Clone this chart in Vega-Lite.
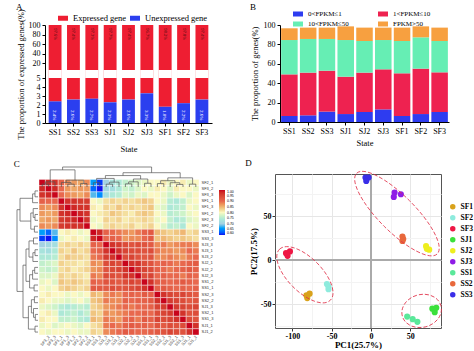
{
"$schema":"https://vega.github.io/schema/vega-lite/v6.json",
"padding":{"left":13,"top":2,"right":0,"bottom":0},
"config":{"font":"Liberation Serif","view":{"stroke":null},
 "axis":{"domainColor":"#000","tickColor":"#000","labelColor":"#000","titleColor":"#000","labelFontSize":8,"titleFontSize":8.5,"titleFontWeight":"normal","grid":false,"tickSize":3,"labelFont":"Liberation Serif","titleFont":"Liberation Serif","labelOverlap":false},
 "legend":{"labelFont":"Liberation Serif","labelFontSize":8,"labelColor":"#000"},
 "title":{"font":"Liberation Serif","fontSize":9,"fontWeight":"normal","anchor":"start","frame":"bounds","offset":2}},
"datasets":{
"a":[{"state":"SS1","type":"Expressed gene","pct":97.6},{"state":"SS1","type":"Unexpressed gene","pct":2.4},{"state":"SS2","type":"Expressed gene","pct":97.4},{"state":"SS2","type":"Unexpressed gene","pct":2.6},{"state":"SS3","type":"Expressed gene","pct":97.3},{"state":"SS3","type":"Unexpressed gene","pct":2.7},{"state":"SJ1","type":"Expressed gene","pct":97.7},{"state":"SJ1","type":"Unexpressed gene","pct":2.3},{"state":"SJ2","type":"Expressed gene","pct":97.4},{"state":"SJ2","type":"Unexpressed gene","pct":2.6},{"state":"SJ3","type":"Expressed gene","pct":96.7},{"state":"SJ3","type":"Unexpressed gene","pct":3.3},{"state":"SF1","type":"Expressed gene","pct":98.2},{"state":"SF1","type":"Unexpressed gene","pct":1.8},{"state":"SF2","type":"Expressed gene","pct":97.8},{"state":"SF2","type":"Unexpressed gene","pct":2.2},{"state":"SF3","type":"Expressed gene","pct":97.4},{"state":"SF3","type":"Unexpressed gene","pct":2.6}],
"b":[{"state":"SS1","cat":"0<FPKM≤1","v":6.2},{"state":"SS1","cat":"1<FPKM≤10","v":42.9},{"state":"SS1","cat":"10<FPKM≤50","v":35.4},{"state":"SS1","cat":"FPKM>50","v":12.1},
{"state":"SS2","cat":"0<FPKM≤1","v":6.9},{"state":"SS2","cat":"1<FPKM≤10","v":44.0},{"state":"SS2","cat":"10<FPKM≤50","v":34.7},{"state":"SS2","cat":"FPKM>50","v":11.7},
{"state":"SS3","cat":"0<FPKM≤1","v":10.7},{"state":"SS3","cat":"1<FPKM≤10","v":42.2},{"state":"SS3","cat":"10<FPKM≤50","v":32.7},{"state":"SS3","cat":"FPKM>50","v":11.7},
{"state":"SJ1","cat":"0<FPKM≤1","v":8.2},{"state":"SJ1","cat":"1<FPKM≤10","v":38.5},{"state":"SJ1","cat":"10<FPKM≤50","v":37.8},{"state":"SJ1","cat":"FPKM>50","v":14.1},
{"state":"SJ2","cat":"0<FPKM≤1","v":10.3},{"state":"SJ2","cat":"1<FPKM≤10","v":40.6},{"state":"SJ2","cat":"10<FPKM≤50","v":32.6},{"state":"SJ2","cat":"FPKM>50","v":13.8},
{"state":"SJ3","cat":"0<FPKM≤1","v":13.0},{"state":"SJ3","cat":"1<FPKM≤10","v":41.3},{"state":"SJ3","cat":"10<FPKM≤50","v":30.2},{"state":"SJ3","cat":"FPKM>50","v":12.8},
{"state":"SF1","cat":"0<FPKM≤1","v":6.2},{"state":"SF1","cat":"1<FPKM≤10","v":44.0},{"state":"SF1","cat":"10<FPKM≤50","v":33.3},{"state":"SF1","cat":"FPKM>50","v":13.8},
{"state":"SF2","cat":"0<FPKM≤1","v":8.2},{"state":"SF2","cat":"1<FPKM≤10","v":46.8},{"state":"SF2","cat":"10<FPKM≤50","v":32.3},{"state":"SF2","cat":"FPKM>50","v":11.3},
{"state":"SF3","cat":"0<FPKM≤1","v":10.3},{"state":"SF3","cat":"1<FPKM≤10","v":40.9},{"state":"SF3","cat":"10<FPKM≤50","v":32.3},{"state":"SF3","cat":"FPKM>50","v":13.8}],
"tree":[{"p1":1,"p2":1,"h1":0,"h2":1},{"p1":2,"p2":2,"h1":0,"h2":1},{"p1":1,"p2":2,"h1":1,"h2":1},
{"p1":1.5,"p2":1.5,"h1":1,"h2":1.8},{"p1":3,"p2":3,"h1":0,"h2":1.8},{"p1":1.5,"p2":3,"h1":1.8,"h2":1.8},
{"p1":5,"p2":5,"h1":0,"h2":1},{"p1":6,"p2":6,"h1":0,"h2":1},{"p1":5,"p2":6,"h1":1,"h2":1},
{"p1":4,"p2":4,"h1":0,"h2":1.6},{"p1":5.5,"p2":5.5,"h1":1,"h2":1.6},{"p1":4,"p2":5.5,"h1":1.6,"h2":1.6},
{"p1":7,"p2":7,"h1":0,"h2":1.2},{"p1":8,"p2":8,"h1":0,"h2":1.2},{"p1":7,"p2":8,"h1":1.2,"h2":1.2},
{"p1":4.75,"p2":4.75,"h1":1.6,"h2":2.4},{"p1":7.5,"p2":7.5,"h1":1.2,"h2":2.4},{"p1":4.75,"p2":7.5,"h1":2.4,"h2":2.4},
{"p1":2.25,"p2":2.25,"h1":1.8,"h2":6},{"p1":6.125,"p2":6.125,"h1":2.4,"h2":6},{"p1":2.25,"p2":6.125,"h1":6,"h2":6},
{"p1":9,"p2":9,"h1":0,"h2":1.5},{"p1":10,"p2":10,"h1":0,"h2":1.5},{"p1":9,"p2":10,"h1":1.5,"h2":1.5},
{"p1":11,"p2":11,"h1":0,"h2":1},{"p1":12,"p2":12,"h1":0,"h2":1},{"p1":11,"p2":12,"h1":1,"h2":1},
{"p1":11.5,"p2":11.5,"h1":1,"h2":1.7},{"p1":13,"p2":13,"h1":0,"h2":1.7},{"p1":11.5,"p2":13,"h1":1.7,"h2":1.7},
{"p1":14,"p2":14,"h1":0,"h2":1.1},{"p1":15,"p2":15,"h1":0,"h2":1.1},{"p1":14,"p2":15,"h1":1.1,"h2":1.1},
{"p1":14.5,"p2":14.5,"h1":1.1,"h2":1.8},{"p1":16,"p2":16,"h1":0,"h2":1.8},{"p1":14.5,"p2":16,"h1":1.8,"h2":1.8},
{"p1":17,"p2":17,"h1":0,"h2":1.3},{"p1":18,"p2":18,"h1":0,"h2":1.3},{"p1":17,"p2":18,"h1":1.3,"h2":1.3},
{"p1":19,"p2":19,"h1":0,"h2":1.2},{"p1":20,"p2":20,"h1":0,"h2":1.2},{"p1":19,"p2":20,"h1":1.2,"h2":1.2},
{"p1":22,"p2":22,"h1":0,"h2":0.9},{"p1":23,"p2":23,"h1":0,"h2":0.9},{"p1":22,"p2":23,"h1":0.9,"h2":0.9},
{"p1":21,"p2":21,"h1":0,"h2":1.5},{"p1":22.5,"p2":22.5,"h1":0.9,"h2":1.5},{"p1":21,"p2":22.5,"h1":1.5,"h2":1.5},
{"p1":19.5,"p2":19.5,"h1":1.2,"h2":2.2},{"p1":21.75,"p2":21.75,"h1":1.5,"h2":2.2},{"p1":19.5,"p2":21.75,"h1":2.2,"h2":2.2},
{"p1":24,"p2":24,"h1":0,"h2":1},{"p1":25,"p2":25,"h1":0,"h2":1},{"p1":24,"p2":25,"h1":1,"h2":1},
{"p1":9.5,"p2":9.5,"h1":1.5,"h2":3},{"p1":12.25,"p2":12.25,"h1":1.7,"h2":3},{"p1":9.5,"p2":12.25,"h1":3,"h2":3},
{"p1":15.25,"p2":15.25,"h1":1.8,"h2":2.8},{"p1":17.5,"p2":17.5,"h1":1.3,"h2":2.8},{"p1":15.25,"p2":17.5,"h1":2.8,"h2":2.8},
{"p1":10.875,"p2":10.875,"h1":3,"h2":4},{"p1":16.375,"p2":16.375,"h1":2.8,"h2":4},{"p1":10.875,"p2":16.375,"h1":4,"h2":4},
{"p1":20.625,"p2":20.625,"h1":2.2,"h2":3.2},{"p1":24.5,"p2":24.5,"h1":1,"h2":3.2},{"p1":20.625,"p2":24.5,"h1":3.2,"h2":3.2},
{"p1":13.625,"p2":13.625,"h1":4,"h2":5},{"p1":22.5625,"p2":22.5625,"h1":3.2,"h2":5},{"p1":13.625,"p2":22.5625,"h1":5,"h2":5},
{"p1":4.1875,"p2":4.1875,"h1":6,"h2":7},{"p1":18.09375,"p2":18.09375,"h1":5,"h2":7},{"p1":4.1875,"p2":18.09375,"h1":7,"h2":7}],
"hm":[
{"r":1,"c":1,"v":100},{"r":1,"c":2,"v":98},{"r":1,"c":3,"v":97},{"r":1,"c":4,"v":91},{"r":1,"c":5,"v":88},{"r":1,"c":6,"v":87},{"r":1,"c":7,"v":86},{"r":1,"c":8,"v":88},{"r":1,"c":9,"v":66},{"r":1,"c":10,"v":61},{"r":1,"c":11,"v":70},{"r":1,"c":12,"v":73},{"r":1,"c":13,"v":74},{"r":1,"c":14,"v":76},{"r":1,"c":15,"v":77},{"r":1,"c":16,"v":78},{"r":1,"c":17,"v":79},{"r":1,"c":18,"v":80},{"r":1,"c":19,"v":80},{"r":1,"c":20,"v":81},{"r":1,"c":21,"v":79},{"r":1,"c":22,"v":80},{"r":1,"c":23,"v":81},{"r":1,"c":24,"v":79},{"r":1,"c":25,"v":80},
{"r":2,"c":1,"v":98},{"r":2,"c":2,"v":100},{"r":2,"c":3,"v":98},{"r":2,"c":4,"v":90},{"r":2,"c":5,"v":87},{"r":2,"c":6,"v":86},{"r":2,"c":7,"v":87},{"r":2,"c":8,"v":87},{"r":2,"c":9,"v":63},{"r":2,"c":10,"v":60},{"r":2,"c":11,"v":71},{"r":2,"c":12,"v":72},{"r":2,"c":13,"v":74},{"r":2,"c":14,"v":77},{"r":2,"c":15,"v":76},{"r":2,"c":16,"v":78},{"r":2,"c":17,"v":80},{"r":2,"c":18,"v":79},{"r":2,"c":19,"v":81},{"r":2,"c":20,"v":80},{"r":2,"c":21,"v":78},{"r":2,"c":22,"v":81},{"r":2,"c":23,"v":80},{"r":2,"c":24,"v":80},{"r":2,"c":25,"v":79},
{"r":3,"c":1,"v":97},{"r":3,"c":2,"v":98},{"r":3,"c":3,"v":100},{"r":3,"c":4,"v":90},{"r":3,"c":5,"v":88},{"r":3,"c":6,"v":87},{"r":3,"c":7,"v":86},{"r":3,"c":8,"v":88},{"r":3,"c":9,"v":68},{"r":3,"c":10,"v":65},{"r":3,"c":11,"v":72},{"r":3,"c":12,"v":74},{"r":3,"c":13,"v":75},{"r":3,"c":14,"v":78},{"r":3,"c":15,"v":77},{"r":3,"c":16,"v":79},{"r":3,"c":17,"v":78},{"r":3,"c":18,"v":80},{"r":3,"c":19,"v":80},{"r":3,"c":20,"v":79},{"r":3,"c":21,"v":77},{"r":3,"c":22,"v":79},{"r":3,"c":23,"v":80},{"r":3,"c":24,"v":78},{"r":3,"c":25,"v":80},
{"r":4,"c":1,"v":91},{"r":4,"c":2,"v":90},{"r":4,"c":3,"v":90},{"r":4,"c":4,"v":100},{"r":4,"c":5,"v":97},{"r":4,"c":6,"v":97},{"r":4,"c":7,"v":96},{"r":4,"c":8,"v":96},{"r":4,"c":9,"v":80},{"r":4,"c":10,"v":79},{"r":4,"c":11,"v":82},{"r":4,"c":12,"v":83},{"r":4,"c":13,"v":82},{"r":4,"c":14,"v":83},{"r":4,"c":15,"v":82},{"r":4,"c":16,"v":83},{"r":4,"c":17,"v":84},{"r":4,"c":18,"v":83},{"r":4,"c":19,"v":80},{"r":4,"c":20,"v":79},{"r":4,"c":21,"v":75},{"r":4,"c":22,"v":74},{"r":4,"c":23,"v":76},{"r":4,"c":24,"v":79},{"r":4,"c":25,"v":80},
{"r":5,"c":1,"v":88},{"r":5,"c":2,"v":87},{"r":5,"c":3,"v":88},{"r":5,"c":4,"v":97},{"r":5,"c":5,"v":100},{"r":5,"c":6,"v":98},{"r":5,"c":7,"v":97},{"r":5,"c":8,"v":97},{"r":5,"c":9,"v":81},{"r":5,"c":10,"v":80},{"r":5,"c":11,"v":83},{"r":5,"c":12,"v":82},{"r":5,"c":13,"v":84},{"r":5,"c":14,"v":82},{"r":5,"c":15,"v":83},{"r":5,"c":16,"v":82},{"r":5,"c":17,"v":83},{"r":5,"c":18,"v":84},{"r":5,"c":19,"v":79},{"r":5,"c":20,"v":78},{"r":5,"c":21,"v":74},{"r":5,"c":22,"v":75},{"r":5,"c":23,"v":76},{"r":5,"c":24,"v":80},{"r":5,"c":25,"v":79},
{"r":6,"c":1,"v":87},{"r":6,"c":2,"v":86},{"r":6,"c":3,"v":87},{"r":6,"c":4,"v":97},{"r":6,"c":5,"v":98},{"r":6,"c":6,"v":100},{"r":6,"c":7,"v":98},{"r":6,"c":8,"v":97},{"r":6,"c":9,"v":80},{"r":6,"c":10,"v":81},{"r":6,"c":11,"v":82},{"r":6,"c":12,"v":84},{"r":6,"c":13,"v":83},{"r":6,"c":14,"v":82},{"r":6,"c":15,"v":81},{"r":6,"c":16,"v":83},{"r":6,"c":17,"v":84},{"r":6,"c":18,"v":83},{"r":6,"c":19,"v":80},{"r":6,"c":20,"v":79},{"r":6,"c":21,"v":75},{"r":6,"c":22,"v":76},{"r":6,"c":23,"v":77},{"r":6,"c":24,"v":79},{"r":6,"c":25,"v":80},
{"r":7,"c":1,"v":86},{"r":7,"c":2,"v":87},{"r":7,"c":3,"v":86},{"r":7,"c":4,"v":96},{"r":7,"c":5,"v":97},{"r":7,"c":6,"v":98},{"r":7,"c":7,"v":100},{"r":7,"c":8,"v":97},{"r":7,"c":9,"v":79},{"r":7,"c":10,"v":80},{"r":7,"c":11,"v":83},{"r":7,"c":12,"v":82},{"r":7,"c":13,"v":83},{"r":7,"c":14,"v":81},{"r":7,"c":15,"v":82},{"r":7,"c":16,"v":82},{"r":7,"c":17,"v":83},{"r":7,"c":18,"v":82},{"r":7,"c":19,"v":79},{"r":7,"c":20,"v":80},{"r":7,"c":21,"v":76},{"r":7,"c":22,"v":74},{"r":7,"c":23,"v":75},{"r":7,"c":24,"v":78},{"r":7,"c":25,"v":79},
{"r":8,"c":1,"v":88},{"r":8,"c":2,"v":87},{"r":8,"c":3,"v":88},{"r":8,"c":4,"v":96},{"r":8,"c":5,"v":97},{"r":8,"c":6,"v":97},{"r":8,"c":7,"v":97},{"r":8,"c":8,"v":100},{"r":8,"c":9,"v":80},{"r":8,"c":10,"v":79},{"r":8,"c":11,"v":82},{"r":8,"c":12,"v":83},{"r":8,"c":13,"v":82},{"r":8,"c":14,"v":82},{"r":8,"c":15,"v":83},{"r":8,"c":16,"v":81},{"r":8,"c":17,"v":82},{"r":8,"c":18,"v":83},{"r":8,"c":19,"v":80},{"r":8,"c":20,"v":78},{"r":8,"c":21,"v":75},{"r":8,"c":22,"v":76},{"r":8,"c":23,"v":74},{"r":8,"c":24,"v":80},{"r":8,"c":25,"v":79},
{"r":9,"c":1,"v":66},{"r":9,"c":2,"v":63},{"r":9,"c":3,"v":68},{"r":9,"c":4,"v":80},{"r":9,"c":5,"v":81},{"r":9,"c":6,"v":80},{"r":9,"c":7,"v":79},{"r":9,"c":8,"v":80},{"r":9,"c":9,"v":100},{"r":9,"c":10,"v":98},{"r":9,"c":11,"v":91},{"r":9,"c":12,"v":90},{"r":9,"c":13,"v":89},{"r":9,"c":14,"v":88},{"r":9,"c":15,"v":87},{"r":9,"c":16,"v":89},{"r":9,"c":17,"v":91},{"r":9,"c":18,"v":92},{"r":9,"c":19,"v":85},{"r":9,"c":20,"v":84},{"r":9,"c":21,"v":83},{"r":9,"c":22,"v":84},{"r":9,"c":23,"v":85},{"r":9,"c":24,"v":82},{"r":9,"c":25,"v":83},
{"r":10,"c":1,"v":61},{"r":10,"c":2,"v":60},{"r":10,"c":3,"v":65},{"r":10,"c":4,"v":79},{"r":10,"c":5,"v":80},{"r":10,"c":6,"v":81},{"r":10,"c":7,"v":80},{"r":10,"c":8,"v":79},{"r":10,"c":9,"v":98},{"r":10,"c":10,"v":100},{"r":10,"c":11,"v":90},{"r":10,"c":12,"v":91},{"r":10,"c":13,"v":90},{"r":10,"c":14,"v":87},{"r":10,"c":15,"v":88},{"r":10,"c":16,"v":88},{"r":10,"c":17,"v":90},{"r":10,"c":18,"v":92},{"r":10,"c":19,"v":84},{"r":10,"c":20,"v":85},{"r":10,"c":21,"v":84},{"r":10,"c":22,"v":83},{"r":10,"c":23,"v":84},{"r":10,"c":24,"v":83},{"r":10,"c":25,"v":82},
{"r":11,"c":1,"v":70},{"r":11,"c":2,"v":71},{"r":11,"c":3,"v":72},{"r":11,"c":4,"v":82},{"r":11,"c":5,"v":83},{"r":11,"c":6,"v":82},{"r":11,"c":7,"v":83},{"r":11,"c":8,"v":82},{"r":11,"c":9,"v":91},{"r":11,"c":10,"v":90},{"r":11,"c":11,"v":100},{"r":11,"c":12,"v":97},{"r":11,"c":13,"v":96},{"r":11,"c":14,"v":94},{"r":11,"c":15,"v":93},{"r":11,"c":16,"v":94},{"r":11,"c":17,"v":93},{"r":11,"c":18,"v":92},{"r":11,"c":19,"v":88},{"r":11,"c":20,"v":89},{"r":11,"c":21,"v":87},{"r":11,"c":22,"v":88},{"r":11,"c":23,"v":89},{"r":11,"c":24,"v":89},{"r":11,"c":25,"v":88},
{"r":12,"c":1,"v":73},{"r":12,"c":2,"v":72},{"r":12,"c":3,"v":74},{"r":12,"c":4,"v":83},{"r":12,"c":5,"v":82},{"r":12,"c":6,"v":84},{"r":12,"c":7,"v":82},{"r":12,"c":8,"v":83},{"r":12,"c":9,"v":90},{"r":12,"c":10,"v":91},{"r":12,"c":11,"v":97},{"r":12,"c":12,"v":100},{"r":12,"c":13,"v":97},{"r":12,"c":14,"v":95},{"r":12,"c":15,"v":94},{"r":12,"c":16,"v":94},{"r":12,"c":17,"v":93},{"r":12,"c":18,"v":94},{"r":12,"c":19,"v":89},{"r":12,"c":20,"v":88},{"r":12,"c":21,"v":88},{"r":12,"c":22,"v":87},{"r":12,"c":23,"v":88},{"r":12,"c":24,"v":90},{"r":12,"c":25,"v":89},
{"r":13,"c":1,"v":74},{"r":13,"c":2,"v":74},{"r":13,"c":3,"v":75},{"r":13,"c":4,"v":82},{"r":13,"c":5,"v":84},{"r":13,"c":6,"v":83},{"r":13,"c":7,"v":83},{"r":13,"c":8,"v":82},{"r":13,"c":9,"v":89},{"r":13,"c":10,"v":90},{"r":13,"c":11,"v":96},{"r":13,"c":12,"v":97},{"r":13,"c":13,"v":100},{"r":13,"c":14,"v":94},{"r":13,"c":15,"v":95},{"r":13,"c":16,"v":93},{"r":13,"c":17,"v":92},{"r":13,"c":18,"v":93},{"r":13,"c":19,"v":88},{"r":13,"c":20,"v":88},{"r":13,"c":21,"v":89},{"r":13,"c":22,"v":88},{"r":13,"c":23,"v":87},{"r":13,"c":24,"v":89},{"r":13,"c":25,"v":90},
{"r":14,"c":1,"v":76},{"r":14,"c":2,"v":77},{"r":14,"c":3,"v":78},{"r":14,"c":4,"v":83},{"r":14,"c":5,"v":82},{"r":14,"c":6,"v":82},{"r":14,"c":7,"v":81},{"r":14,"c":8,"v":82},{"r":14,"c":9,"v":88},{"r":14,"c":10,"v":87},{"r":14,"c":11,"v":94},{"r":14,"c":12,"v":95},{"r":14,"c":13,"v":94},{"r":14,"c":14,"v":100},{"r":14,"c":15,"v":97},{"r":14,"c":16,"v":97},{"r":14,"c":17,"v":94},{"r":14,"c":18,"v":93},{"r":14,"c":19,"v":90},{"r":14,"c":20,"v":91},{"r":14,"c":21,"v":90},{"r":14,"c":22,"v":89},{"r":14,"c":23,"v":90},{"r":14,"c":24,"v":91},{"r":14,"c":25,"v":92},
{"r":15,"c":1,"v":77},{"r":15,"c":2,"v":76},{"r":15,"c":3,"v":77},{"r":15,"c":4,"v":82},{"r":15,"c":5,"v":83},{"r":15,"c":6,"v":81},{"r":15,"c":7,"v":82},{"r":15,"c":8,"v":83},{"r":15,"c":9,"v":87},{"r":15,"c":10,"v":88},{"r":15,"c":11,"v":93},{"r":15,"c":12,"v":94},{"r":15,"c":13,"v":95},{"r":15,"c":14,"v":97},{"r":15,"c":15,"v":100},{"r":15,"c":16,"v":97},{"r":15,"c":17,"v":95},{"r":15,"c":18,"v":94},{"r":15,"c":19,"v":91},{"r":15,"c":20,"v":90},{"r":15,"c":21,"v":89},{"r":15,"c":22,"v":90},{"r":15,"c":23,"v":91},{"r":15,"c":24,"v":92},{"r":15,"c":25,"v":91},
{"r":16,"c":1,"v":78},{"r":16,"c":2,"v":78},{"r":16,"c":3,"v":79},{"r":16,"c":4,"v":83},{"r":16,"c":5,"v":82},{"r":16,"c":6,"v":83},{"r":16,"c":7,"v":82},{"r":16,"c":8,"v":81},{"r":16,"c":9,"v":89},{"r":16,"c":10,"v":88},{"r":16,"c":11,"v":94},{"r":16,"c":12,"v":94},{"r":16,"c":13,"v":93},{"r":16,"c":14,"v":97},{"r":16,"c":15,"v":97},{"r":16,"c":16,"v":100},{"r":16,"c":17,"v":94},{"r":16,"c":18,"v":95},{"r":16,"c":19,"v":90},{"r":16,"c":20,"v":91},{"r":16,"c":21,"v":90},{"r":16,"c":22,"v":90},{"r":16,"c":23,"v":89},{"r":16,"c":24,"v":91},{"r":16,"c":25,"v":90},
{"r":17,"c":1,"v":79},{"r":17,"c":2,"v":80},{"r":17,"c":3,"v":78},{"r":17,"c":4,"v":84},{"r":17,"c":5,"v":83},{"r":17,"c":6,"v":84},{"r":17,"c":7,"v":83},{"r":17,"c":8,"v":82},{"r":17,"c":9,"v":91},{"r":17,"c":10,"v":90},{"r":17,"c":11,"v":93},{"r":17,"c":12,"v":93},{"r":17,"c":13,"v":92},{"r":17,"c":14,"v":94},{"r":17,"c":15,"v":95},{"r":17,"c":16,"v":94},{"r":17,"c":17,"v":100},{"r":17,"c":18,"v":97},{"r":17,"c":19,"v":92},{"r":17,"c":20,"v":91},{"r":17,"c":21,"v":90},{"r":17,"c":22,"v":91},{"r":17,"c":23,"v":92},{"r":17,"c":24,"v":91},{"r":17,"c":25,"v":90},
{"r":18,"c":1,"v":80},{"r":18,"c":2,"v":79},{"r":18,"c":3,"v":80},{"r":18,"c":4,"v":83},{"r":18,"c":5,"v":84},{"r":18,"c":6,"v":83},{"r":18,"c":7,"v":82},{"r":18,"c":8,"v":83},{"r":18,"c":9,"v":92},{"r":18,"c":10,"v":92},{"r":18,"c":11,"v":92},{"r":18,"c":12,"v":94},{"r":18,"c":13,"v":93},{"r":18,"c":14,"v":93},{"r":18,"c":15,"v":94},{"r":18,"c":16,"v":95},{"r":18,"c":17,"v":97},{"r":18,"c":18,"v":100},{"r":18,"c":19,"v":91},{"r":18,"c":20,"v":92},{"r":18,"c":21,"v":91},{"r":18,"c":22,"v":90},{"r":18,"c":23,"v":91},{"r":18,"c":24,"v":90},{"r":18,"c":25,"v":91},
{"r":19,"c":1,"v":80},{"r":19,"c":2,"v":81},{"r":19,"c":3,"v":80},{"r":19,"c":4,"v":80},{"r":19,"c":5,"v":79},{"r":19,"c":6,"v":80},{"r":19,"c":7,"v":79},{"r":19,"c":8,"v":80},{"r":19,"c":9,"v":85},{"r":19,"c":10,"v":84},{"r":19,"c":11,"v":88},{"r":19,"c":12,"v":89},{"r":19,"c":13,"v":88},{"r":19,"c":14,"v":90},{"r":19,"c":15,"v":91},{"r":19,"c":16,"v":90},{"r":19,"c":17,"v":92},{"r":19,"c":18,"v":91},{"r":19,"c":19,"v":100},{"r":19,"c":20,"v":97},{"r":19,"c":21,"v":95},{"r":19,"c":22,"v":94},{"r":19,"c":23,"v":95},{"r":19,"c":24,"v":93},{"r":19,"c":25,"v":92},
{"r":20,"c":1,"v":81},{"r":20,"c":2,"v":80},{"r":20,"c":3,"v":79},{"r":20,"c":4,"v":79},{"r":20,"c":5,"v":78},{"r":20,"c":6,"v":79},{"r":20,"c":7,"v":80},{"r":20,"c":8,"v":78},{"r":20,"c":9,"v":84},{"r":20,"c":10,"v":85},{"r":20,"c":11,"v":89},{"r":20,"c":12,"v":88},{"r":20,"c":13,"v":88},{"r":20,"c":14,"v":91},{"r":20,"c":15,"v":90},{"r":20,"c":16,"v":91},{"r":20,"c":17,"v":91},{"r":20,"c":18,"v":92},{"r":20,"c":19,"v":97},{"r":20,"c":20,"v":100},{"r":20,"c":21,"v":96},{"r":20,"c":22,"v":95},{"r":20,"c":23,"v":94},{"r":20,"c":24,"v":92},{"r":20,"c":25,"v":93},
{"r":21,"c":1,"v":79},{"r":21,"c":2,"v":78},{"r":21,"c":3,"v":77},{"r":21,"c":4,"v":75},{"r":21,"c":5,"v":74},{"r":21,"c":6,"v":75},{"r":21,"c":7,"v":76},{"r":21,"c":8,"v":75},{"r":21,"c":9,"v":83},{"r":21,"c":10,"v":84},{"r":21,"c":11,"v":87},{"r":21,"c":12,"v":88},{"r":21,"c":13,"v":89},{"r":21,"c":14,"v":90},{"r":21,"c":15,"v":89},{"r":21,"c":16,"v":90},{"r":21,"c":17,"v":90},{"r":21,"c":18,"v":91},{"r":21,"c":19,"v":95},{"r":21,"c":20,"v":96},{"r":21,"c":21,"v":100},{"r":21,"c":22,"v":96},{"r":21,"c":23,"v":95},{"r":21,"c":24,"v":94},{"r":21,"c":25,"v":95},
{"r":22,"c":1,"v":80},{"r":22,"c":2,"v":81},{"r":22,"c":3,"v":79},{"r":22,"c":4,"v":74},{"r":22,"c":5,"v":75},{"r":22,"c":6,"v":76},{"r":22,"c":7,"v":74},{"r":22,"c":8,"v":76},{"r":22,"c":9,"v":84},{"r":22,"c":10,"v":83},{"r":22,"c":11,"v":88},{"r":22,"c":12,"v":87},{"r":22,"c":13,"v":88},{"r":22,"c":14,"v":89},{"r":22,"c":15,"v":90},{"r":22,"c":16,"v":90},{"r":22,"c":17,"v":91},{"r":22,"c":18,"v":90},{"r":22,"c":19,"v":94},{"r":22,"c":20,"v":95},{"r":22,"c":21,"v":96},{"r":22,"c":22,"v":100},{"r":22,"c":23,"v":97},{"r":22,"c":24,"v":93},{"r":22,"c":25,"v":94},
{"r":23,"c":1,"v":81},{"r":23,"c":2,"v":80},{"r":23,"c":3,"v":80},{"r":23,"c":4,"v":76},{"r":23,"c":5,"v":76},{"r":23,"c":6,"v":77},{"r":23,"c":7,"v":75},{"r":23,"c":8,"v":74},{"r":23,"c":9,"v":85},{"r":23,"c":10,"v":84},{"r":23,"c":11,"v":89},{"r":23,"c":12,"v":88},{"r":23,"c":13,"v":87},{"r":23,"c":14,"v":90},{"r":23,"c":15,"v":91},{"r":23,"c":16,"v":89},{"r":23,"c":17,"v":92},{"r":23,"c":18,"v":91},{"r":23,"c":19,"v":95},{"r":23,"c":20,"v":94},{"r":23,"c":21,"v":95},{"r":23,"c":22,"v":97},{"r":23,"c":23,"v":100},{"r":23,"c":24,"v":94},{"r":23,"c":25,"v":93},
{"r":24,"c":1,"v":79},{"r":24,"c":2,"v":80},{"r":24,"c":3,"v":78},{"r":24,"c":4,"v":79},{"r":24,"c":5,"v":80},{"r":24,"c":6,"v":79},{"r":24,"c":7,"v":78},{"r":24,"c":8,"v":80},{"r":24,"c":9,"v":82},{"r":24,"c":10,"v":83},{"r":24,"c":11,"v":89},{"r":24,"c":12,"v":90},{"r":24,"c":13,"v":89},{"r":24,"c":14,"v":91},{"r":24,"c":15,"v":92},{"r":24,"c":16,"v":91},{"r":24,"c":17,"v":91},{"r":24,"c":18,"v":90},{"r":24,"c":19,"v":93},{"r":24,"c":20,"v":92},{"r":24,"c":21,"v":94},{"r":24,"c":22,"v":93},{"r":24,"c":23,"v":94},{"r":24,"c":24,"v":100},{"r":24,"c":25,"v":97},
{"r":25,"c":1,"v":80},{"r":25,"c":2,"v":79},{"r":25,"c":3,"v":80},{"r":25,"c":4,"v":80},{"r":25,"c":5,"v":79},{"r":25,"c":6,"v":80},{"r":25,"c":7,"v":79},{"r":25,"c":8,"v":79},{"r":25,"c":9,"v":83},{"r":25,"c":10,"v":82},{"r":25,"c":11,"v":88},{"r":25,"c":12,"v":89},{"r":25,"c":13,"v":90},{"r":25,"c":14,"v":92},{"r":25,"c":15,"v":91},{"r":25,"c":16,"v":90},{"r":25,"c":17,"v":90},{"r":25,"c":18,"v":91},{"r":25,"c":19,"v":92},{"r":25,"c":20,"v":93},{"r":25,"c":21,"v":95},{"r":25,"c":22,"v":94},{"r":25,"c":23,"v":93},{"r":25,"c":24,"v":97},{"r":25,"c":25,"v":100}],
"pca":[{"group":"SF1","pc1":-82,"pc2":-40},{"group":"SF1","pc1":-78,"pc2":-38},{"group":"SF1","pc1":-81,"pc2":-43},
{"group":"SF2","pc1":-56,"pc2":-27},{"group":"SF2","pc1":-54,"pc2":-30},{"group":"SF2","pc1":-54,"pc2":-33},
{"group":"SF3","pc1":-108,"pc2":8},{"group":"SF3","pc1":-103,"pc2":10},{"group":"SF3","pc1":-106,"pc2":5},
{"group":"SJ1","pc1":78,"pc2":-55},{"group":"SJ1","pc1":81,"pc2":-59},{"group":"SJ1","pc1":83,"pc2":-54},
{"group":"SJ2","pc1":70,"pc2":16},{"group":"SJ2","pc1":74,"pc2":12},{"group":"SJ2","pc1":71,"pc2":13},
{"group":"SJ3","pc1":30,"pc2":77},{"group":"SJ3","pc1":38,"pc2":75},{"group":"SJ3","pc1":29,"pc2":72},
{"group":"SS1","pc1":46,"pc2":-64},{"group":"SS1","pc1":53,"pc2":-67},{"group":"SS1","pc1":59,"pc2":-70},
{"group":"SS2","pc1":40,"pc2":27},{"group":"SS2","pc1":41,"pc2":24},{"group":"SS2","pc1":40,"pc2":22},
{"group":"SS3","pc1":-7,"pc2":94},{"group":"SS3","pc1":-3,"pc2":94},{"group":"SS3","pc1":-6,"pc2":90}]
},
"spacing":5,
"vconcat":[
 {"bounds":"flush","spacing":68,"resolve":{"scale":{"color":"independent"},"legend":{"color":"independent"}},"hconcat":[
  {"title":{"text":"A","dy":5},"width":167,"height":98,"data":{"name":"a"},
   "encoding":{"x":{"field":"state","type":"nominal","sort":["SS1","SS2","SS3","SJ1","SJ2","SJ3","SF1","SF2","SF3"],"scale":{"paddingInner":0.3,"paddingOuter":0.2},"axis":{"labelAngle":0,"title":"State","titlePadding":8,"labelPadding":2}}},
   "layer":[
    {"mark":{"type":"bar"},
     "encoding":{"y":{"field":"pct","type":"quantitative","stack":"zero","scale":{"domain":[0,5,6,100],"range":[98,53,45,0]},"axis":{"values":[0,1,2,3,4,5,20,40,60,80,100],"tickCount":11,"labelOverlap":false,"labelBound":false,"title":"The proportion of expressed genes(%)","titlePadding":3}},
      "color":{"field":"type","type":"nominal","scale":{"domain":["Expressed gene","Unexpressed gene"],"range":["#EE1E32","#2B3FEF"]},
        "legend":{"orient":"none","legendX":12,"legendY":-13,"direction":"horizontal","title":null,"symbolType":"M-1,-0.5H1V0.5H-1Z","symbolSize":100,"labelFontSize":8.5,"columnPadding":2}},
      "order":{"field":"type","sort":"descending"}}},
    {"mark":{"type":"rect","color":"#ffffff"},"encoding":{"y":{"datum":5},"y2":{"datum":6}}},
    {"transform":[{"filter":"datum.type == 'Expressed gene'"}],
     "mark":{"type":"text","angle":90,"align":"left","baseline":"middle","fontSize":4.5,"color":"#3a0a0a","text":{"expr":"format(datum.pct,'.1f')+'%'"}},
     "encoding":{"y":{"datum":93}}},
    {"transform":[{"filter":"datum.type == 'Unexpressed gene'"}],
     "mark":{"type":"text","angle":90,"align":"right","baseline":"middle","fontSize":5,"color":"#ffffff","text":{"expr":"format(datum.pct,'.1f')+'%'"}},
     "encoding":{"y":{"datum":0.3}}}
   ]},
  {"title":{"text":"B","dy":6},"width":169,"height":97,"data":{"name":"b"},
   "transform":[{"calculate":"indexof(['0<FPKM≤1','1<FPKM≤10','10<FPKM≤50','FPKM>50'], datum.cat)","as":"k"}],
   "mark":{"type":"bar"},
   "encoding":{
    "x":{"field":"state","type":"nominal","sort":["SS1","SS2","SS3","SJ1","SJ2","SJ3","SF1","SF2","SF3"],"scale":{"paddingInner":0.12,"paddingOuter":0.06},"axis":{"labelAngle":0,"title":"State","titlePadding":3}},
    "y":{"field":"v","type":"quantitative","stack":"zero","scale":{"domain":[0,100],"nice":false},"axis":{"values":[0,20,40,60,80,100],"title":"The proportion of  genes(%)"}},
    "order":{"field":"k","type":"quantitative","sort":"ascending"},
    "color":{"field":"cat","type":"nominal","sort":["0<FPKM≤1","1<FPKM≤10","10<FPKM≤50","FPKM>50"],"scale":{"domain":["0<FPKM≤1","1<FPKM≤10","10<FPKM≤50","FPKM>50"],"range":["#2E3CF0","#EE2250","#66EEB4","#F7A040"]},
     "legend":{"orient":"none","legendX":12,"legendY":-17,"columns":2,"direction":"horizontal","title":null,"symbolType":"M-1,-0.5H1V0.5H-1Z","symbolSize":100,"labelFontSize":7,"columnPadding":28,"rowPadding":1}}}}
 ]},
 {"bounds":"flush","spacing":76,"center":true,"resolve":{"scale":{"color":"independent"},"legend":{"color":"independent"}},"hconcat":[
  {"title":{"text":"C","dx":-3,"dy":4},"width":154,"height":168,
   "resolve":{"scale":{"x":"independent","y":"independent"}},
   "layer":[
    {"data":{"name":"hm"},"mark":{"type":"rect","width":6.4,"stroke":"#ffffff","strokeWidth":0.4},
     "encoding":{
      "x":{"field":"c","type":"quantitative","scale":{"domain":[1.4375,25.5],"nice":false,"zero":false},"axis":{"orient":"bottom","values":[1,2,3,4,5,6,7,8,9,10,11,12,13,14,15,16,17,18,19,20,21,22,23,24,25],"tickCount":25,"domain":false,"ticks":false,"grid":false,"labelAngle":-50,"labelFontSize":4,"labelFont":"Liberation Sans","labelColor":"#333","labelPadding":1,"title":null,"labelExpr":"['SF2_1','SF3_2','SF3_3','SF1_1','SF1_3','SF1_2','SF2_3','SF2_2','SS3_1','SS3_3','SJ3_3','SJ3_1','SJ3_2','SJ2_1','SJ2_2','SJ2_3','SS1_2','SS1_1','SS2_3','SS2_2','SJ1_3','SS2_1','SS1_3','SJ1_1','SJ1_2'][datum.value-1]"}},
      "y":{"field":"r","type":"ordinal","scale":{"paddingInner":0,"paddingOuter":1.786,"align":1},"axis":{"orient":"right","domain":false,"ticks":false,"labelFontSize":4,"labelFont":"Liberation Sans","labelColor":"#333","labelPadding":2,"title":null,"labelExpr":"['SF2_1','SF3_2','SF3_3','SF1_1','SF1_3','SF1_2','SF2_3','SF2_2','SS3_1','SS3_3','SJ3_3','SJ3_1','SJ3_2','SJ2_1','SJ2_2','SJ2_3','SS1_2','SS1_1','SS2_3','SS2_2','SJ1_3','SS2_1','SS1_3','SJ1_1','SJ1_2'][datum.value-1]"}},
      "color":{"field":"v","type":"quantitative","scale":{"domain":[60,70,80,90,100],"range":["#1010f0","#a4d2e2","#fbf8c2","#e8684e","#c8041c"]},
       "legend":{"orient":"none","legendX":174,"legendY":23,"gradientLength":45,"gradientThickness":6,"title":null,"values":[60,65,70,75,80,85,90,95,100],"labelExpr":"format(datum.value/100,'.2f')","labelFontSize":3.5,"labelFont":"Liberation Sans","labelOverlap":false,"labelPadding":1}}}},
    {"data":{"name":"tree"},"mark":{"type":"rule","color":"#555","strokeWidth":0.7},
     "encoding":{"x":{"field":"p1","type":"quantitative","scale":{"domain":[1.4375,25.5],"nice":false,"zero":false},"axis":null},"x2":{"field":"p2"},
      "y":{"field":"h1","type":"quantitative","scale":{"domain":[-51.8,7],"nice":false,"zero":false},"axis":null},"y2":{"field":"h2"}}},
    {"data":{"name":"tree"},"mark":{"type":"rule","color":"#555","strokeWidth":0.7},
     "encoding":{"y":{"field":"p1","type":"quantitative","scale":{"domain":[-3.07,25.5],"reverse":true,"nice":false,"zero":false},"axis":null},"y2":{"field":"p2"},
      "x":{"field":"h1","type":"quantitative","scale":{"domain":[-53.67,-2.333],"reverse":true,"nice":false,"zero":false},"axis":null},"x2":{"field":"h2"}}}
   ]},
  {"title":{"text":"D","dx":-4},"width":166,"height":154,"view":{"stroke":"#555","strokeWidth":1},
   "data":{"name":"pca"},
   "layer":[
    {"mark":{"type":"rule","color":"#aaaaaa","strokeWidth":1},"encoding":{"x":{"datum":0,"type":"quantitative"}}},
    {"mark":{"type":"rule","color":"#aaaaaa","strokeWidth":1},"encoding":{"y":{"datum":0,"type":"quantitative"}}},
    {"mark":{"type":"circle","size":38,"opacity":1},
     "encoding":{
      "x":{"field":"pc1","type":"quantitative","scale":{"domain":[-122,89],"nice":false,"zero":false},
       "axis":{"values":[-100,-75,-50,-25,0,25,50,75],"tickCount":8,"labelExpr":"datum.value % 50 == 0 ? '' + datum.value : ''","grid":true,"gridColor":{"condition":{"test":"datum.value % 50 != 0","value":"#f3f3f3"},"value":"#e6e6e6"},"tickOpacity":{"condition":{"test":"datum.value % 50 != 0","value":0},"value":1},"domain":false,"title":"PC1(25.7%)","labelFontWeight":"bold","titleFontWeight":"bold","labelFontSize":8,"titleFontSize":9,"tickColor":"#333","titlePadding":0,"labelPadding":1}},
      "y":{"field":"pc2","type":"quantitative","scale":{"domain":[-77,98],"nice":false,"zero":false},
       "axis":{"values":[-75,-50,-25,0,25,50,75],"tickCount":7,"labelExpr":"datum.value % 50 == 0 ? '' + datum.value : ''","grid":true,"gridColor":{"condition":{"test":"datum.value % 50 != 0","value":"#f3f3f3"},"value":"#e6e6e6"},"tickOpacity":{"condition":{"test":"datum.value % 50 != 0","value":0},"value":1},"domain":false,"title":"PC2(17.5%)","labelFontWeight":"bold","titleFontWeight":"bold","labelFontSize":8,"titleFontSize":9,"tickColor":"#333","titlePadding":2,"labelPadding":1}},
      "color":{"field":"group","type":"nominal","scale":{"domain":["SF1","SF2","SF3","SJ1","SJ2","SJ3","SS1","SS2","SS3"],"range":["#D9A21B","#8EEBDD","#EE1745","#3BE03B","#EEEE1E","#8F1CE6","#5AE89A","#E8683C","#3A2EE8"]},
       "legend":{"orient":"none","legendX":174,"legendY":29,"title":null,"labelFontSize":7.5,"labelFontWeight":"bold","symbolType":"circle","symbolSize":30,"rowPadding":2}}}},
    {"data":{"values":[{"pc1":33,"pc2":53}]},"mark":{"type":"point","shape":"M-1,0A1,0.316,0,1,1,1,0A1,0.316,0,1,1,-1,0Z","size":12996,"angle":45,"filled":false,"stroke":"#e03048","strokeWidth":0.8,"strokeDash":[4,2],"opacity":1},"encoding":{"x":{"field":"pc1","type":"quantitative"},"y":{"field":"pc2","type":"quantitative"}}},
    {"data":{"values":[{"pc1":-84,"pc2":-16.5}]},"mark":{"type":"point","shape":"M-1,0A1,0.47,0,1,1,1,0A1,0.47,0,1,1,-1,0Z","size":5184,"angle":45,"filled":false,"stroke":"#e03048","strokeWidth":0.8,"strokeDash":[4,2],"opacity":1},"encoding":{"x":{"field":"pc1","type":"quantitative"},"y":{"field":"pc2","type":"quantitative"}}},
    {"data":{"values":[{"pc1":64.4,"pc2":-57.6}]},"mark":{"type":"point","shape":"M-1,0A1,0.82,0,1,1,1,0A1,0.82,0,1,1,-1,0Z","size":1600,"angle":-15,"filled":false,"stroke":"#e03048","strokeWidth":0.8,"strokeDash":[4,2],"opacity":1},"encoding":{"x":{"field":"pc1","type":"quantitative"},"y":{"field":"pc2","type":"quantitative"}}}
   ]}
 ]}
]
}
